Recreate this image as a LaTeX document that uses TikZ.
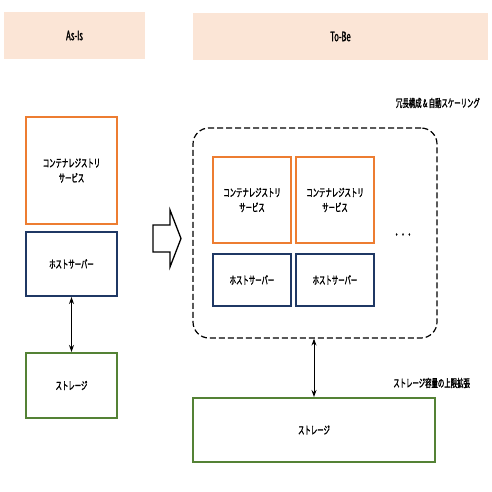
\documentclass[tikz,border=0pt]{standalone}
\usepackage{fontspec}
\newfontfamily\jp[FakeStretch=0.58,FakeBold=1.6]{Noto Sans CJK JP}
\usetikzlibrary{arrows.meta}
\definecolor{hdr}{HTML}{FBE5D6}
\definecolor{orng}{HTML}{ED7D31}
\definecolor{navy}{HTML}{1F3864}
\definecolor{grn}{HTML}{548235}
\tikzset{
  every node/.style={font=\jp\fontsize{11}{15}\selectfont, align=center, inner sep=0pt},
  header/.style={fill=hdr, draw=none, minimum height=47pt, font=\jp\fontsize{13}{15}\selectfont},
  appbox/.style={draw=orng, line width=2pt, minimum width=78pt, minimum height=86pt},
  hostbox/.style={draw=navy, line width=2pt, minimum width=78pt, minimum height=52pt},
  storebox/.style={draw=grn, line width=2pt, minimum height=64pt},
  link/.style={line width=1pt, {Stealth[length=7pt,width=5pt]}-{Stealth[length=7pt,width=5pt]}},
  grp/.style={draw, dash pattern=on 6pt off 3pt, line width=1.2pt, rounded corners=16pt, minimum width=244pt, minimum height=210pt},
  note/.style={anchor=east}
}
\begin{document}
\begin{tikzpicture}[x=1pt,y=-1pt]
\useasboundingbox (0,0) rectangle (492,492);
% headers
\node[header, minimum width=141pt] (asis) at (74.5,35.5) {As-Is};
\node[header, minimum width=295pt] (tobe) at (340.5,36.5) {To-Be};
% As-Is
\node[appbox, minimum width=91pt, minimum height=106pt] (app0) at (71.5,170.5) {コンテナレジストリ\\サービス};
\node[hostbox, minimum width=91pt, minimum height=64pt] (host0) at (71.5,264) {ホストサーバー};
\node[storebox, minimum width=91pt, minimum height=65pt] (st0) at (71.5,385.5) {ストレージ};
\draw[link] (host0.south) -- (st0.north);
% block arrow
\draw[line width=1.3pt, fill=white] (153,225) -- (170,225) -- (170,210) -- (181,238.5) -- (170,267) -- (170,252) -- (153,252) -- cycle;
% To-Be
\node[grp] (group) at (315,233) {};
\node[note] (lbl1) at (480,103) {冗長構成 \& 自動スケーリング};
\node[appbox] (app1) at (252,200) {コンテナレジストリ\\サービス};
\node[appbox] (app2) at (335,200) {コンテナレジストリ\\サービス};
\node[hostbox] (host1) at (252,280) {ホストサーバー};
\node[hostbox] (host2) at (335,280) {ホストサーバー};
\node (dots) at (403,236) {・・・};
\node[storebox, minimum width=242pt] (st1) at (314,430) {ストレージ};
\node[note] (lbl2) at (470,383) {ストレージ容量の上限拡張};
\draw[link] (st1.north |- group.south) -- (st1.north);
\end{tikzpicture}
\end{document}
